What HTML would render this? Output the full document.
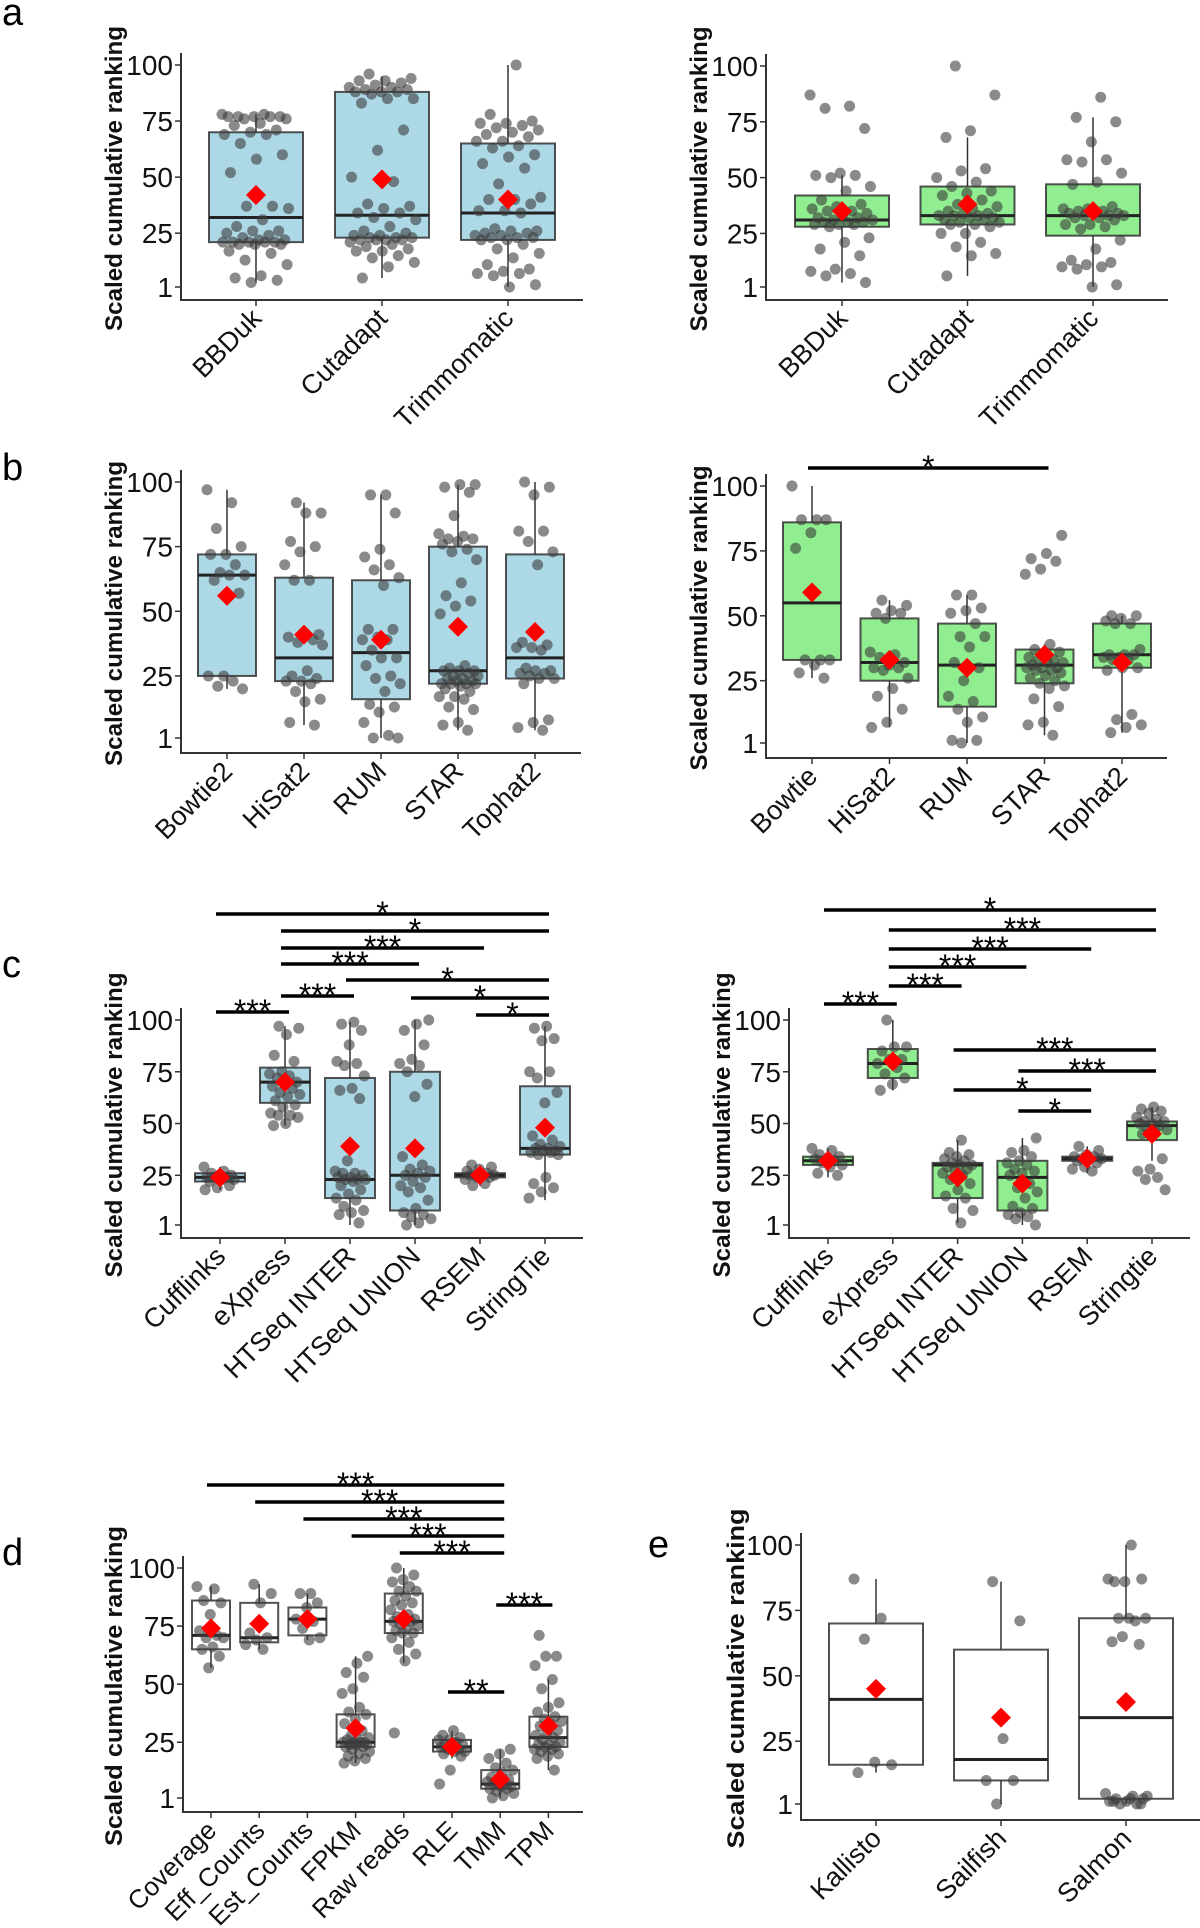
<!DOCTYPE html>
<html><head><meta charset="utf-8"><style>
html,body{margin:0;padding:0;background:#fff}
svg{display:block;font-family:"Liberation Sans",Arial,sans-serif}
</style></head><body>
<svg id="fig" width="1200" height="1928" viewBox="0 0 1200 1928" xmlns="http://www.w3.org/2000/svg"></svg>
<script>
// ===== Panel a (left) =====
const aLCats=["BBDuk","Cutadapt","Trimmomatic"];
const aLQ1=[21,23,22], aLMed=[32,33,34], aLQ3=[70,88,65], aLLo=[3,5,1], aLHi=[78,95,100], aLMean=[42,49,40];
const aLPts=[[78,78,77,77,77,77,77,76,76,74,73,71,70,69,69,65,60,58,52,37,37,36,31,28,26,26,25,24,23,22,22,21,21,21,21,21,20,20,20,17,16,13,11,6,5,4,3],
[96,94,93,93,92,91,90,90,89,89,88,88,88,87,85,85,83,71,62,50,48,38,37,36,34,34,32,31,28,26,25,24,24,23,23,23,22,22,22,22,21,20,19,18,17,17,15,14,12,10,5],
[100,78,75,74,74,73,72,71,70,69,68,66,66,64,63,60,59,56,54,47,41,40,40,38,35,35,34,27,26,26,25,25,24,24,23,23,23,22,22,20,18,16,14,11,9,8,7,7,6,2,1]];
// ===== Panel a (right) =====
const aRCats=["BBDuk","Cutadapt","Trimmomatic"];
const aRQ1=[28,29,24], aRMed=[31,33,33], aRQ3=[42,46,47], aRLo=[3,6,1], aRHi=[51,68,77], aRMean=[35,38,35];
const aRPts=[[87,82,81,72,52,51,51,50,46,44,40,38,37,36,35,35,34,33,32,32,31,31,30,30,30,29,29,29,28,23,21,18,15,9,8,7,6,3],
[100,87,71,68,54,53,50,48,46,44,43,42,40,38,37,36,35,34,34,33,33,33,32,32,31,31,30,30,29,29,28,25,25,21,19,16,15,6],
[86,77,75,66,58,58,57,52,48,47,37,36,36,35,35,34,34,34,33,33,33,32,32,31,29,29,28,27,22,18,13,12,11,10,10,9,2,1]];
// ===== Panel b (left) =====
const bLCats=["Bowtie2","HiSat2","RUM","STAR","Tophat2"];
const bLQ1=[25,23,16,22,24], bLMed=[64,32,34,27,32], bLQ3=[72,63,62,75,72], bLLo=[20,6,1,4,4], bLHi=[97,92,95,99,100], bLMean=[56,41,39,44,42];
const bLPts=[[97,92,82,75,72,72,68,65,64,64,62,57,25,25,23,21,20],
[92,88,88,77,75,73,68,62,62,41,40,40,39,38,37,27,25,24,23,23,22,19,16,15,7,6],
[95,95,88,74,71,68,66,63,60,43,43,40,39,39,35,32,32,29,25,24,22,19,14,13,11,7,2,1,1],
[99,99,98,96,87,80,79,78,78,77,76,74,73,70,61,56,54,52,49,29,28,27,27,27,26,25,25,24,24,23,23,22,22,22,22,21,20,19,17,17,16,13,12,7,6,4],
[100,98,95,81,81,77,73,68,38,37,36,36,35,28,27,27,26,26,25,24,24,22,8,7,5,4]];
// ===== Panel b (right) =====
const bRCats=["Bowtie","HiSat2","RUM","STAR","Tophat2"];
const bRQ1=[33,25,15,24,30], bRMed=[55,32,31,31,35], bRQ3=[86,49,47,37,47], bRLo=[26,7,1,4,5], bRHi=[100,56,58,39,50], bRMean=[59,33,30,35,32];
const bRPts=[[100,87,87,87,82,76,33,33,33,31,28,26],
[56,54,52,51,51,49,36,35,34,32,31,30,30,29,26,22,19,14,9,7],
[58,58,53,52,51,47,42,42,38,32,30,25,19,17,14,11,9,2,2,1],
[81,74,72,71,68,66,39,37,36,35,34,33,33,32,32,31,30,30,30,29,29,28,27,26,25,24,23,22,18,15,9,8,4],
[50,50,49,48,47,47,37,35,35,35,34,34,33,33,30,30,29,12,10,8,7,5]];
const bRSigFrom=[0], bRSigTo=[3], bRSigLabel=["*"];
// ===== Panel c (left) =====
const cLCats=["Cufflinks","eXpress","HTSeq INTER","HTSeq UNION","RSEM","StringTie"];
const cLQ1=[22,60,14,8,24,35], cLMed=[24,70,23,25,25,38], cLQ3=[26,77,72,75,26,68], cLLo=[18,49,1,1,20,13], cLHi=[29,97,99,100,29,97], cLMean=[24,70,39,38,25,48];
const cLPts=[[29,27,26,25,25,24,24,24,23,23,22,20,19,18],
[97,96,93,83,80,75,74,73,72,70,69,68,67,65,64,63,61,59,58,55,54,54,53,50,49],
[99,98,95,88,80,79,78,73,67,66,62,32,27,26,26,25,24,24,23,23,23,22,20,18,16,14,13,10,8,7,6,2],
[100,98,95,88,81,79,78,75,69,63,34,30,28,27,26,25,24,22,20,19,17,13,9,7,6,5,4,2,1],
[30,29,28,27,26,25,25,25,25,24,24,23,21,20],
[97,96,91,90,75,75,72,65,60,44,42,40,39,38,38,37,37,36,36,35,35,24,21,19,17,14]];
const cLSigFrom=[0,1,1,1,2,1,3,0,4], cLSigTo=[5,5,4,3,5,2,5,1,5], cLSigLabel=["*","*","***","***","*","***","*","***","*"];
// ===== Panel c (right) =====
const cRCats=["Cufflinks","eXpress","HTSeq INTER","HTSeq UNION","RSEM","Stringtie"];
const cRQ1=[30,72,14,8,32,42], cRMed=[32,79,30,24,33,49], cRQ3=[34,86,31,32,34,51], cRLo=[24,66,2,1,26,32], cRHi=[38,100,42,43,39,58], cRMean=[32,80,24,21,33,45];
const cRPts=[[38,37,35,34,33,33,32,31,30,29,26,25],
[100,87,87,85,81,81,79,77,74,72,69,66],
[42,36,35,34,33,32,31,30,30,29,28,27,26,25,23,21,18,15,14,9,8,2],
[43,37,36,34,32,31,30,28,27,26,25,21,19,17,14,10,9,7,6,5,4,1],
[39,37,35,34,34,33,33,33,32,31,29,28,27],
[58,57,56,55,53,52,51,51,50,50,49,48,47,46,45,33,28,27,24,23,18]];
const cRSigFrom=[0,1,1,1,1,0,2,3,2,3], cRSigTo=[5,5,4,3,2,1,5,5,4,4], cRSigLabel=["*","***","***","***","***","***","***","***","*","*"];
// ===== Panel d =====
const dCats=["Coverage","Eff_Counts","Est_Counts","FPKM","Raw reads","RLE","TMM","TPM"];
const dQ1=[65,68,71,23,72,21,5,23], dMed=[71,70,78,25,77,23,7,27], dQ3=[86,85,83,37,89,26,13,36], dLo=[57,65,69,16,59,18,1,13], dHi=[92,93,89,62,100,30,22,52], dMean=[74,76,78,31,78,23,9,32];
const dPts=[[92,91,86,85,80,73,71,70,70,66,65,62,57],
[93,89,85,72,70,69,67,65],
[89,89,85,83,78,77,74,70,69],
[62,59,55,53,48,46,40,38,37,35,33,30,28,27,26,26,25,25,25,25,24,24,24,23,23,22,21,20,19,18,17,16],
[100,97,95,94,92,90,90,88,86,85,84,82,80,79,78,78,77,77,76,75,74,73,72,72,70,68,65,63,60,29],
[30,28,27,26,26,25,24,24,23,23,22,22,21,21,20,19,13,7],
[22,20,18,16,14,13,12,10,9,8,8,7,7,6,6,5,5,4,3,2,1],
[71,62,62,58,52,48,42,40,38,36,35,34,33,32,30,29,28,27,26,25,24,24,23,23,22,22,21,20,19,18,13]];
const dSigFrom=[0,1,2,3,4,6,5], dSigTo=[6,6,6,6,6,7,6], dSigLabel=["***","***","***","***","***","***","**"];
// ===== Panel e =====
const eCats=["Kallisto","Sailfish","Salmon"];
const eQ1=[16,10,3], eMed=[41,18,34], eQ3=[70,60,72], eLo=[13,1,1], eHi=[87,86,100], eMean=[45,34,40];
const ePts=[[87,72,64,16,17,13],[86,71,26,10,10,1],[100,86,87,86,87,71,72,72,72,63,62,65,5,4,3,3,2,2,1,1,4,3,2,1]];

const yTicks=[1,25,50,75,100];
const tickLabels=["1","25","50","75","100"];

const NS="http://www.w3.org/2000/svg";
const svg=document.getElementById('fig');
function mk(tag,attrs,parent,text){const e=document.createElementNS(NS,tag);for(const k in attrs)e.setAttribute(k,attrs[k]);if(text!==undefined)e.textContent=text;(parent||svg).appendChild(e);return e;}

function panel(id,L,cats,q1,med,q3,lo,hi,mean,pts,sf,st,sl){
  const g=mk('g',{});
  
  
  const y=v=>L.y1-(v-1)*(L.y1-L.y100)/99;
  const x=i=>L.x0+i*L.step;
  const ya=mk('line',{x1:L.ax,y1:L.y100-12,x2:L.ax,y2:L.base,stroke:'#333','stroke-width':2},g);
  
  
  const xa=mk('line',{x1:L.ax-1,y1:L.base,x2:L.right,y2:L.base,stroke:'#333','stroke-width':2},g);
  
  
  yTicks.forEach((t,k)=>{
    mk('line',{x1:L.ax-6,y1:y(t),x2:L.ax,y2:y(t),stroke:'#333','stroke-width':1.5},g);
    const tl=mk('text',{x:L.ax-8,y:y(t)+10,'text-anchor':'end','font-size':28,fill:'#111'},g,tickLabels[k]);
    
    
  });
  const cy=(L.y100+L.base)/2-4;
  const tt=mk('text',{x:L.titleX,y:cy,'text-anchor':'middle','font-size':24,'font-weight':'bold',fill:'#111',transform:`rotate(-90 ${L.titleX} ${cy})`,textLength:L.tl||305,lengthAdjust:'spacingAndGlyphs'},g,'Scaled cumulative ranking');
  
  
  cats.forEach((c,i)=>{
    const cx=x(i);
    mk('line',{x1:cx,y1:L.base,x2:cx,y2:L.base+6,stroke:'#333','stroke-width':1.5},g);
    const lx=cx+7,ly=L.base+20;
    const cl=mk('text',{x:lx,y:ly,'text-anchor':'end','font-size':L.fs||27,fill:'#111',transform:`rotate(-45 ${lx} ${ly})`},g,c);
    
    
    const w=mk('path',{d:`M${cx} ${y(q3[i])}V${y(hi[i])}M${cx} ${y(q1[i])}V${y(lo[i])}`,stroke:'#333','stroke-width':1.5},g);
    
    
    const b=mk('rect',{x:cx-L.hw,y:y(q3[i]),width:2*L.hw,height:y(q1[i])-y(q3[i]),fill:L.fill,stroke:'#333','stroke-opacity':0.85,'stroke-width':2},g);
    
    
    const m=mk('line',{x1:cx-L.hw,y1:y(med[i]),x2:cx+L.hw,y2:y(med[i]),stroke:'#222','stroke-width':3},g);
    
    
    pts[i].forEach((v,k)=>{
      const off=L.jit*((((k*0.618034)+0.31*i)%1)*2-1);
      const p=mk('circle',{cx:cx+off,cy:y(v),r:5.5,fill:'#3c3c3c','fill-opacity':0.6},g);
      
      
    });
    const my=y(mean[i]),d=10;
    const mm=mk('path',{d:`M${cx} ${my-d}L${cx+d} ${my}L${cx} ${my+d}L${cx-d} ${my}Z`,fill:'#ff0000'},g);
    
    
  });
  if(sf){sf.forEach((f,k)=>{
    const yy=L.sigY[k];
    const s=mk('line',{x1:x(f)-4,y1:yy,x2:x(st[k])+4,y2:yy,stroke:'#000','stroke-width':3.5},g);
    
    
    const lbl=mk('text',{x:(x(f)+x(st[k]))/2,y:yy+10,'text-anchor':'middle','font-size':32,fill:'#000'},g,sl[k]);
    
    
  });}
}

panel('a-left',{ax:181,y100:65,y1:287,base:300,right:583,x0:256,step:126,hw:47,jit:34,fill:'#add8e6',titleX:122},aLCats,aLQ1,aLMed,aLQ3,aLLo,aLHi,aLMean,aLPts);
panel('a-right',{ax:766,y100:66,y1:287,base:300,right:1168,x0:842,step:125.5,hw:47,jit:32,fill:'#90ee90',titleX:707},aRCats,aRQ1,aRMed,aRQ3,aRLo,aRHi,aRMean,aRPts);
panel('b-left',{ax:181,y100:482,y1:738,base:753,right:581,x0:227,step:77,hw:29,jit:20,fill:'#add8e6',titleX:122},bLCats,bLQ1,bLMed,bLQ3,bLLo,bLHi,bLMean,bLPts);
panel('b-right',{ax:766,y100:486,y1:743,base:758,right:1167,x0:812,step:77.5,hw:29,jit:20,fill:'#90ee90',titleX:707,sigY:[468]},bRCats,bRQ1,bRMed,bRQ3,bRLo,bRHi,bRMean,bRPts,bRSigFrom,bRSigTo,bRSigLabel);
panel('c-left',{ax:181,y100:1020,y1:1225,base:1238,right:583,x0:220,step:65,hw:25,jit:16,fill:'#add8e6',titleX:122,sigY:[914,931,948,964,980,996,998,1012,1015]},cLCats,cLQ1,cLMed,cLQ3,cLLo,cLHi,cLMean,cLPts,cLSigFrom,cLSigTo,cLSigLabel);
panel('c-right',{ax:789,y100:1020,y1:1225,base:1238,right:1190,x0:828,step:64.8,hw:25,jit:16,fill:'#90ee90',titleX:730,sigY:[910,930,949,967,986,1004,1050,1071,1090,1111]},cRCats,cRQ1,cRMed,cRQ3,cRLo,cRHi,cRMean,cRPts,cRSigFrom,cRSigTo,cRSigLabel);
panel('d',{ax:183,y100:1568,y1:1798,base:1812,right:583,x0:211,step:48.2,hw:19,jit:14,fill:'#ffffff',titleX:122,fs:26,tl:320,sigY:[1485,1502,1519,1536,1553,1605,1692]},dCats,dQ1,dMed,dQ3,dLo,dHi,dMean,dPts,dSigFrom,dSigTo,dSigLabel);
panel('e',{ax:801,y100:1545,y1:1804,base:1820,right:1200,x0:876,step:125,hw:47,jit:22,fill:'#ffffff',titleX:744,tl:340},eCats,eQ1,eMed,eQ3,eLo,eHi,eMean,ePts);

[["a",2,25],["b",2,480],["c",2,977],["d",2,1565],["e",648,1557]].forEach(p=>{
  const t=mk('text',{x:p[1],y:p[2],'font-size':38,fill:'#000'},svg,p[0]);
  
  
});
</script>
</body></html>
